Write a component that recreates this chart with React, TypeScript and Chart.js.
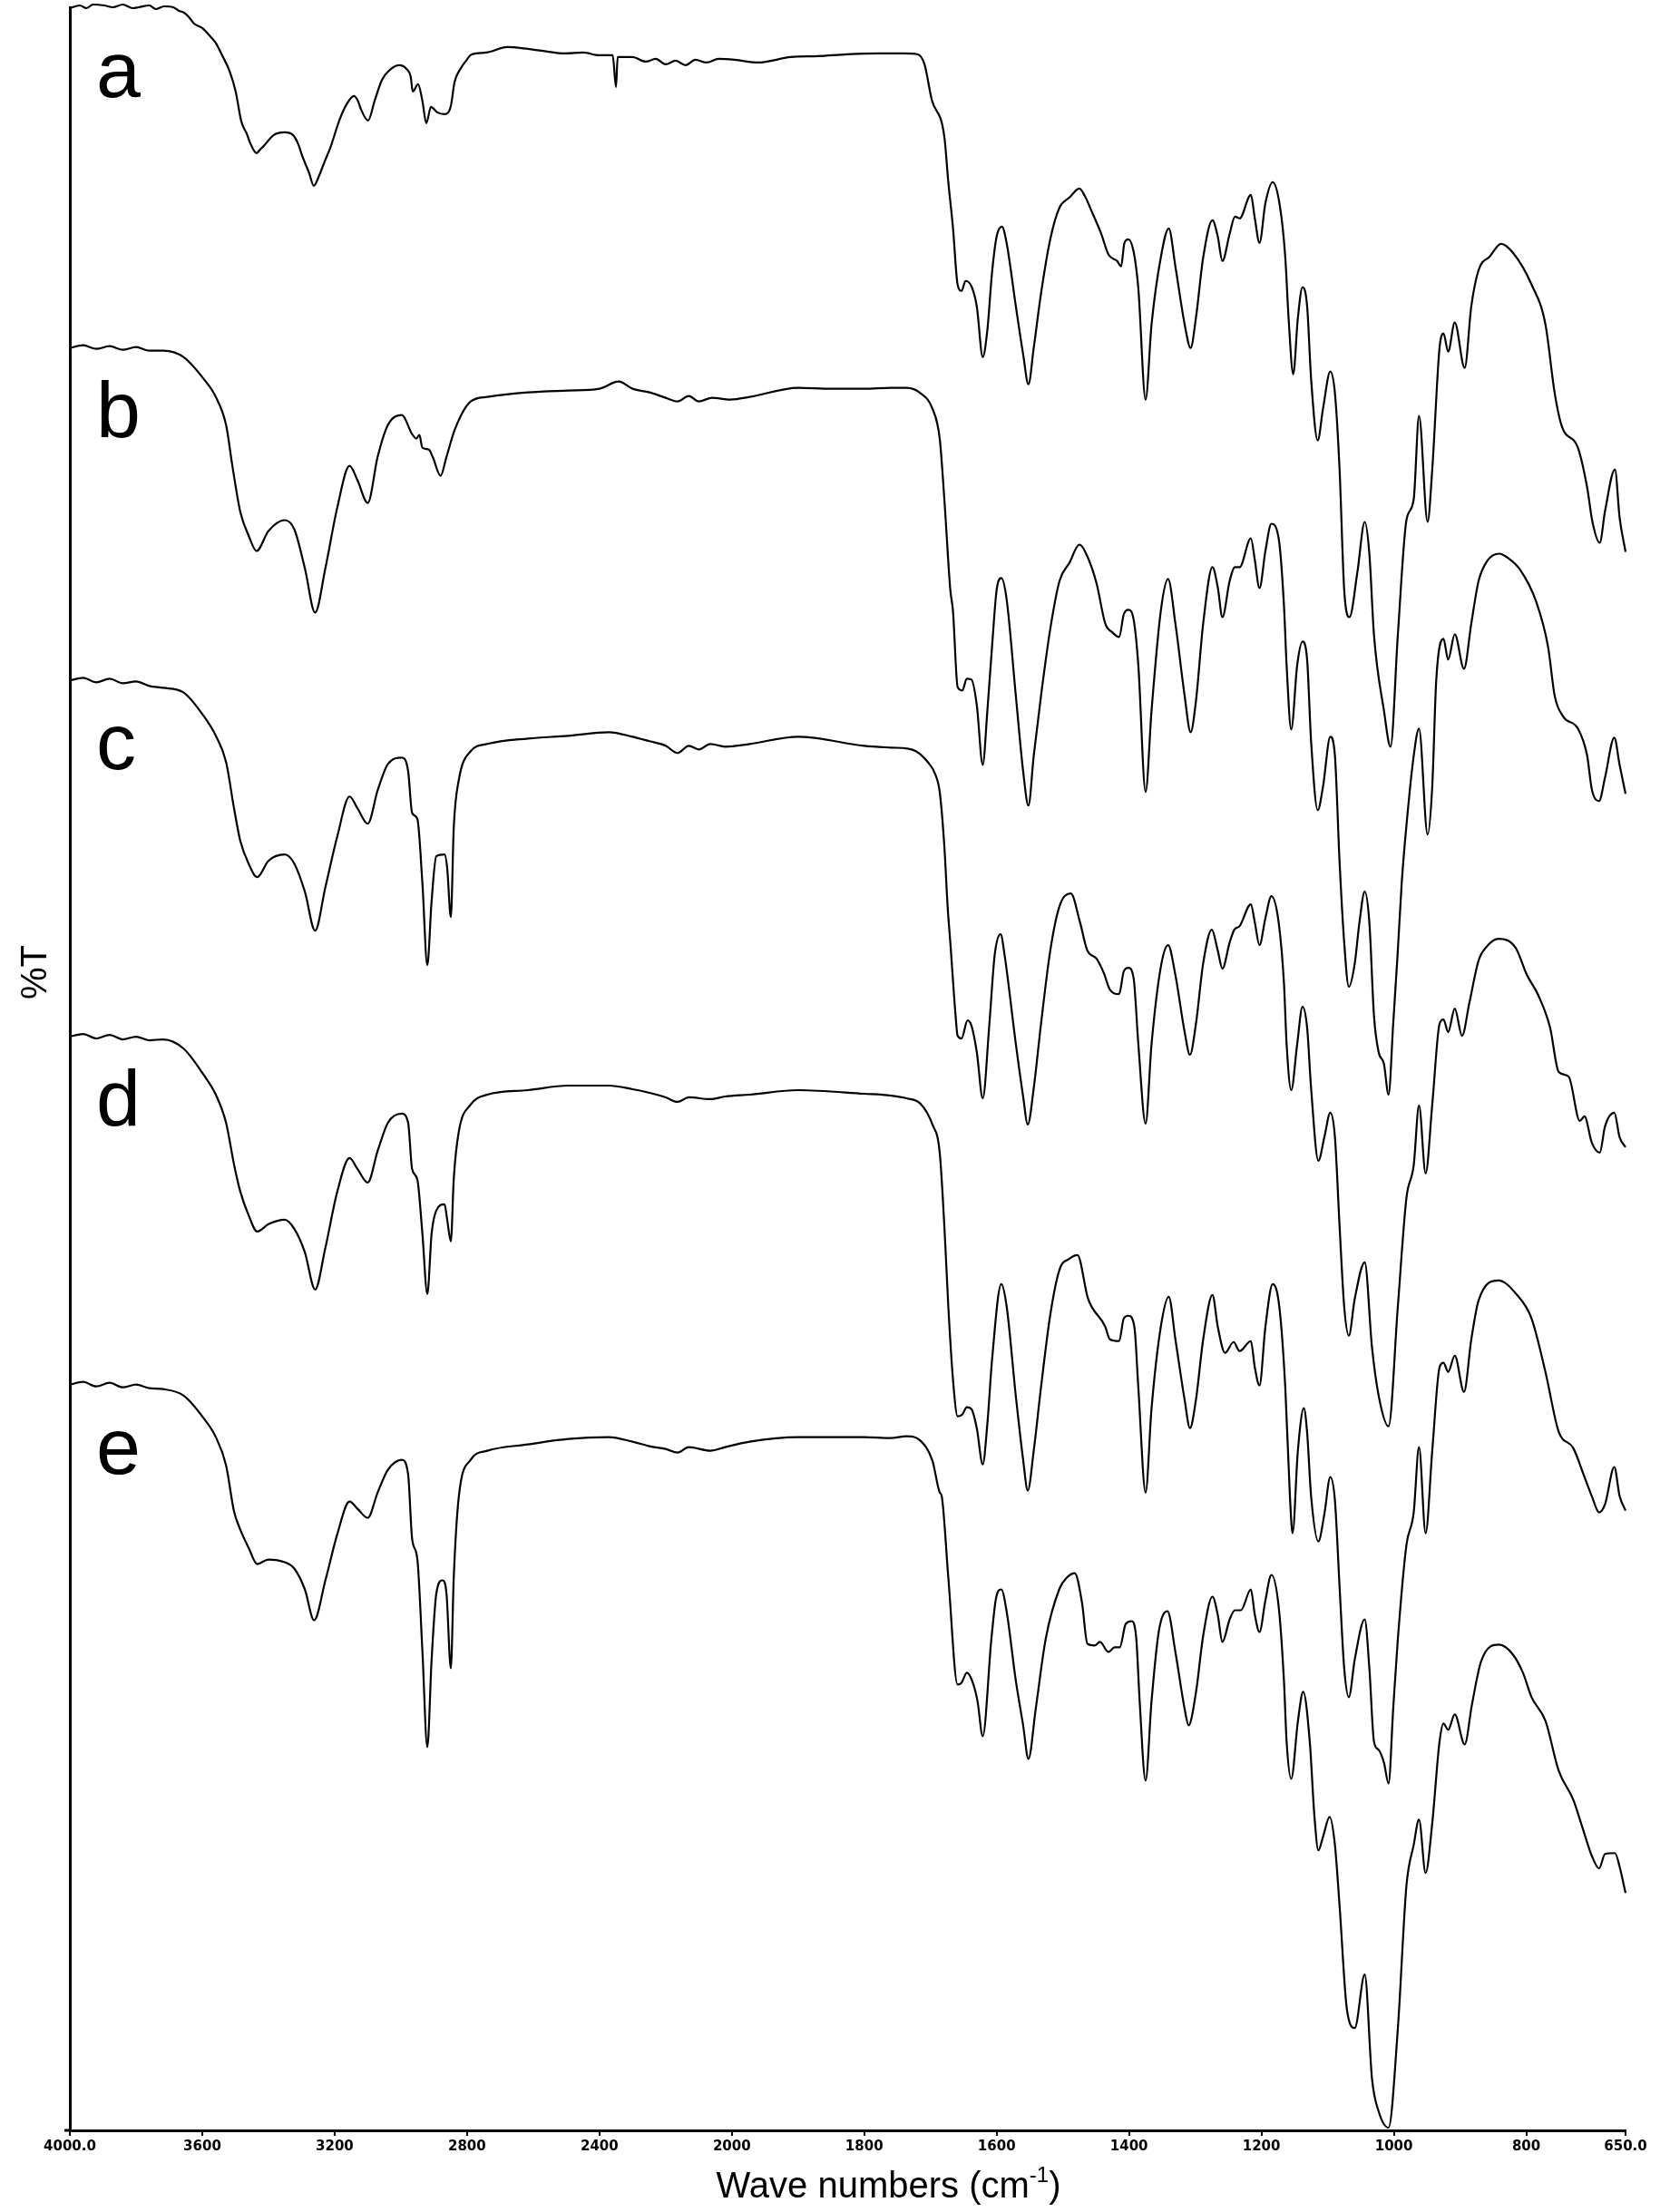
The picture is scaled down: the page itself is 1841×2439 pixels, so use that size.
import React, { useEffect, useRef } from 'react';
import Chart from 'chart.js/auto';

// x axis: wave numbers, with the usual FTIR scale change at 2000 cm-1
const tickWaves = [4000, 3600, 3200, 2800, 2400, 2000, 1800, 1600, 1400, 1200, 1000, 800, 650];
const tickLabels = ['4000.0', '3600', '3200', '2800', '2400', '2000', '1800', '1600', '1400', '1200', '1000', '800', '650.0'];
const sampleLetters = ['a', 'b', 'c', 'd', 'e'];

// [wave number, %T (stacked, arbitrary offset)]
const specA: [number, number][] = [
  [4000, 234.2], [3970, 234.5], [3950, 234.2], [3930, 234.6], [3896, 234.5], [3870, 234.3], [3840, 234.6],
  [3810, 234.2], [3792, 234.3], [3760, 234.5], [3740, 234.1], [3715, 234.4], [3688, 234.3], [3670, 233.9],
  [3655, 233.7], [3640, 233.2], [3625, 232.5], [3600, 232.0], [3581, 231.3], [3560, 230.4], [3540, 229.0],
  [3518, 227.3], [3499, 225.0], [3482, 221.7], [3465, 220.3], [3455, 219.3], [3436, 218.2], [3425, 218.6],
  [3414, 219.0], [3384, 220.2], [3351, 220.5], [3326, 220.2], [3310, 219.2], [3299, 218.0], [3277, 216.0],
  [3263, 214.6], [3247, 215.7], [3230, 217.3], [3214, 218.7], [3184, 222.0], [3162, 223.7], [3142, 224.5],
  [3130, 224.0], [3120, 223.0], [3099, 221.8], [3079, 224.0], [3057, 226.3], [3036, 227.3], [3005, 227.9],
  [2983, 227.5], [2970, 226.6], [2964, 225.0], [2948, 225.8], [2935, 224.0], [2923, 221.5], [2909, 223.3],
  [2890, 222.7], [2868, 222.5], [2849, 223.4], [2838, 226.0], [2820, 227.5], [2805, 228.3], [2786, 229.1],
  [2742, 229.3], [2679, 229.9], [2616, 229.7], [2575, 229.5], [2502, 229.2], [2450, 229.3], [2400, 229.0],
  [2360, 229.0], [2350, 225.5], [2345, 228.8], [2300, 228.8], [2260, 228.3], [2230, 228.6], [2200, 228.0],
  [2170, 228.4], [2140, 227.9], [2110, 228.5], [2077, 228.2], [2040, 228.6], [1996, 228.5], [1960, 228.2],
  [1911, 228.8], [1870, 228.9], [1826, 229.1], [1780, 229.2], [1740, 229.2], [1719, 229.1], [1709, 228.0],
  [1698, 224.1], [1679, 220.0], [1673, 215.0], [1666, 210.0], [1659, 203.7], [1653, 203.0], [1647, 204.1],
  [1638, 203.5], [1630, 201.3], [1621, 195.7], [1614, 198.7], [1607, 205.0], [1600, 209.0], [1592, 210.1],
  [1585, 208.3], [1571, 201.3], [1560, 196.0], [1552, 192.7], [1544, 196.7], [1533, 202.7], [1519, 208.7],
  [1505, 212.2], [1490, 213.3], [1475, 214.3], [1467, 213.5], [1456, 211.7], [1442, 209.3], [1431, 207.0],
  [1418, 206.3], [1412, 205.7], [1407, 208.3], [1401, 208.7], [1393, 207.3], [1386, 203.3], [1375, 191.0],
  [1366, 199.3], [1352, 206.7], [1340, 209.9], [1330, 205.7], [1316, 199.3], [1307, 196.7], [1299, 200.0],
  [1288, 206.7], [1274, 210.8], [1266, 209.0], [1259, 206.3], [1248, 209.3], [1240, 211.2], [1233, 211.0],
  [1216, 213.6], [1210, 211.0], [1203, 208.3], [1194, 212.7], [1183, 215.0], [1172, 212.3], [1164, 206.7],
  [1159, 200.0], [1152, 193.8], [1145, 200.0], [1138, 203.4], [1131, 201.3], [1125, 193.3], [1115, 186.5],
  [1107, 190.0], [1096, 194.1], [1089, 191.7], [1082, 183.3], [1075, 170.0], [1067, 167.0], [1055, 172.0],
  [1044, 177.5], [1037, 174.0], [1030, 165.0], [1015, 156.7], [1005, 152.7], [994, 165.0], [981, 177.7],
  [970, 180.0], [962, 189.2], [949, 177.5], [942, 183.3], [931, 196.7], [925, 198.3], [918, 196.3],
  [908, 199.5], [893, 194.5], [883, 201.3], [872, 205.3], [855, 206.8], [838, 208.2], [820, 207.2],
  [792, 203.7], [771, 199.3], [757, 191.7], [746, 188.0], [722, 185.7], [708, 181.3], [700, 177.5],
  [689, 175.2], [681, 178.7], [666, 183.3], [659, 178.0], [650, 174.2],
];

const specB: [number, number][] = [
  [4000, 196.7], [3960, 197.0], [3920, 196.6], [3880, 196.9], [3840, 196.5], [3800, 196.8], [3760, 196.4],
  [3718, 196.4], [3657, 195.7], [3596, 193.3], [3559, 191.3], [3528, 188.2], [3509, 183.7], [3485, 178.6],
  [3460, 176.0], [3436, 174.3], [3400, 176.5], [3351, 177.7], [3322, 176.7], [3290, 172.4], [3259, 167.5],
  [3228, 172.4], [3192, 179.1], [3155, 183.7], [3131, 182.1], [3100, 179.6], [3070, 184.7], [3039, 188.2],
  [2997, 189.3], [2966, 187.2], [2953, 186.7], [2944, 187.1], [2935, 185.7], [2916, 185.5], [2904, 184.7],
  [2880, 182.6], [2862, 184.7], [2837, 187.7], [2789, 190.8], [2739, 191.3], [2616, 191.8], [2495, 192.0],
  [2400, 192.2], [2342, 193.0], [2300, 192.2], [2249, 191.8], [2200, 191.2], [2164, 190.8], [2130, 191.4],
  [2100, 190.8], [2060, 191.2], [2005, 191.0], [1973, 191.3], [1900, 192.3], [1850, 192.2], [1800, 192.2],
  [1760, 192.3], [1736, 192.3], [1715, 191.7], [1697, 190.0], [1686, 186.7], [1679, 180.0], [1670, 170.0],
  [1666, 167.7], [1659, 159.3], [1652, 158.9], [1645, 160.2], [1638, 160.1], [1630, 157.3], [1621, 150.7],
  [1614, 156.7], [1607, 163.7], [1600, 170.0], [1593, 171.3], [1585, 169.0], [1571, 158.3], [1560, 150.0],
  [1552, 146.2], [1544, 151.7], [1533, 158.3], [1519, 165.7], [1505, 171.0], [1490, 173.0], [1475, 175.0],
  [1463, 173.7], [1449, 170.7], [1436, 166.3], [1425, 165.3], [1415, 164.8], [1408, 167.3], [1401, 167.8],
  [1393, 166.7], [1386, 161.7], [1375, 147.7], [1366, 156.7], [1352, 167.7], [1341, 171.2], [1330, 166.3],
  [1316, 158.3], [1307, 154.3], [1299, 157.7], [1288, 166.3], [1274, 172.5], [1266, 170.3], [1259, 167.0],
  [1248, 171.0], [1240, 172.5], [1233, 172.5], [1216, 175.7], [1210, 173.3], [1203, 170.2], [1194, 174.3],
  [1185, 177.3], [1174, 175.7], [1166, 168.3], [1162, 161.7], [1155, 154.6], [1146, 161.7], [1138, 164.3],
  [1131, 162.3], [1125, 153.3], [1115, 145.7], [1107, 148.3], [1096, 153.8], [1089, 151.7], [1082, 140.0],
  [1075, 131.1], [1068, 126.2], [1059, 128.8], [1052, 133.3], [1044, 136.7], [1037, 133.3], [1030, 123.0],
  [1023, 119.0], [1015, 117.7], [1008, 114.3], [1001, 122.1], [994, 130.2], [988, 137.8], [981, 144.0],
  [970, 151.7], [962, 154.7], [949, 143.0], [942, 148.3], [936, 160.0], [925, 164.6], [918, 162.3],
  [908, 165.1], [894, 161.3], [883, 166.3], [872, 171.0], [859, 173.2], [841, 174.0], [827, 173.5],
  [810, 172.3], [785, 168.7], [767, 163.7], [757, 158.3], [744, 156.0], [722, 154.7], [708, 151.7],
  [701, 148.0], [690, 146.7], [681, 149.3], [667, 153.7], [659, 150.7], [650, 147.5],
];

const specC: [number, number][] = [
  [4000, 160.0], [3960, 160.3], [3920, 159.8], [3880, 160.2], [3840, 159.7], [3800, 159.9], [3760, 159.4],
  [3718, 159.2], [3657, 158.7], [3596, 156.1], [3559, 153.9], [3528, 151.0], [3504, 145.9], [3485, 142.3],
  [3460, 139.8], [3434, 138.3], [3400, 140.1], [3351, 140.8], [3322, 139.8], [3290, 136.7], [3259, 132.4],
  [3228, 137.2], [3192, 142.8], [3155, 147.2], [3131, 145.9], [3100, 144.2], [3070, 147.9], [3039, 150.8],
  [2997, 151.5], [2978, 150.0], [2966, 145.4], [2950, 144.7], [2935, 137.7], [2920, 128.6], [2907, 135.7],
  [2893, 140.6], [2868, 140.8], [2860, 139.3], [2849, 133.9], [2840, 143.9], [2825, 149.0], [2789, 152.2],
  [2739, 153.0], [2616, 153.6], [2495, 153.9], [2372, 154.3], [2300, 153.8], [2249, 153.3], [2200, 152.8],
  [2164, 152.0], [2130, 152.8], [2100, 152.4], [2065, 153.0], [2020, 152.7], [1973, 153.0], [1900, 153.8],
  [1800, 152.8], [1760, 152.6], [1736, 152.5], [1722, 152.2], [1704, 151.0], [1693, 149.7], [1686, 147.7],
  [1679, 141.7], [1674, 135.0], [1670, 131.1], [1662, 123.0], [1659, 120.8], [1653, 120.5], [1644, 122.5],
  [1638, 121.9], [1630, 119.0], [1621, 113.9], [1611, 122.1], [1603, 129.7], [1594, 132.0], [1588, 129.7],
  [1571, 119.9], [1560, 114.1], [1553, 111.0], [1544, 115.0], [1533, 122.1], [1519, 130.2], [1505, 135.1],
  [1488, 136.5], [1474, 133.3], [1463, 130.2], [1449, 129.3], [1438, 127.7], [1429, 125.9], [1415, 125.4],
  [1408, 127.9], [1401, 128.3], [1393, 127.1], [1386, 119.9], [1375, 111.1], [1366, 119.9], [1352, 128.4],
  [1341, 130.8], [1330, 127.5], [1316, 121.2], [1308, 118.7], [1299, 122.1], [1288, 128.8], [1275, 132.5],
  [1266, 130.2], [1259, 128.2], [1248, 131.1], [1241, 132.5], [1233, 132.9], [1216, 135.3], [1210, 133.3],
  [1203, 130.8], [1194, 133.8], [1185, 136.2], [1174, 133.3], [1166, 126.6], [1162, 119.9], [1155, 114.8],
  [1146, 119.9], [1138, 124.0], [1131, 121.7], [1125, 115.0], [1114, 107.0], [1105, 109.6], [1096, 112.3],
  [1089, 109.6], [1082, 99.8], [1075, 90.9], [1068, 87.7], [1059, 91.8], [1044, 95.8], [1033, 86.4],
  [1023, 81.1], [1008, 77.7], [994, 90.9], [981, 102.9], [970, 106.5], [962, 113.1], [952, 105.6],
  [942, 113.2], [931, 122.1], [925, 122.6], [918, 121.2], [908, 123.8], [897, 120.8], [886, 124.4],
  [872, 129.1], [859, 130.7], [842, 131.5], [816, 130.5], [799, 127.5], [782, 125.3], [764, 121.7],
  [751, 116.8], [736, 116.3], [719, 111.4], [712, 111.9], [701, 109.0], [689, 107.9], [681, 110.8],
  [667, 112.3], [659, 109.6], [650, 108.5],
];

const specD: [number, number][] = [
  [4000, 120.7], [3960, 121.0], [3920, 120.5], [3880, 120.9], [3840, 120.4], [3800, 120.7], [3760, 120.3],
  [3718, 120.4], [3657, 119.4], [3596, 116.5], [3559, 114.3], [3528, 111.2], [3504, 106.6], [3485, 103.6],
  [3460, 101.0], [3434, 99.2], [3400, 100.0], [3351, 100.5], [3322, 99.5], [3290, 96.9], [3259, 92.8],
  [3228, 97.4], [3192, 103.6], [3155, 107.3], [3131, 106.1], [3100, 104.6], [3070, 108.1], [3039, 111.2],
  [2997, 112.2], [2978, 111.2], [2966, 106.1], [2950, 104.9], [2935, 99.0], [2920, 92.3], [2907, 99.0],
  [2893, 101.5], [2868, 102.2], [2860, 100.5], [2849, 98.1], [2840, 105.1], [2825, 110.2], [2789, 113.2],
  [2739, 114.3], [2616, 114.8], [2495, 115.3], [2372, 115.3], [2300, 114.9], [2249, 114.5], [2200, 114.0],
  [2164, 113.5], [2130, 114.0], [2065, 113.8], [2020, 114.1], [1973, 114.3], [1900, 114.8], [1800, 114.4],
  [1760, 114.2], [1736, 113.9], [1715, 113.3], [1697, 111.0], [1686, 107.9], [1679, 99.8], [1673, 90.9],
  [1666, 82.9], [1659, 78.8], [1652, 79.0], [1645, 79.8], [1638, 79.6], [1630, 77.5], [1621, 73.5],
  [1614, 78.0], [1607, 85.0], [1593, 93.4], [1585, 91.0], [1571, 81.0], [1560, 74.0], [1553, 70.6],
  [1544, 75.0], [1533, 82.0], [1519, 90.0], [1505, 95.0], [1490, 96.2], [1478, 96.6], [1462, 91.8],
  [1436, 88.7], [1429, 87.3], [1415, 87.1], [1408, 89.6], [1401, 89.9], [1392, 88.7], [1386, 82.0],
  [1375, 70.4], [1366, 79.7], [1352, 88.7], [1340, 92.0], [1330, 87.3], [1316, 80.6], [1308, 77.5],
  [1299, 80.6], [1288, 87.3], [1274, 92.2], [1266, 88.7], [1255, 85.8], [1242, 87.0], [1233, 86.0],
  [1216, 87.1], [1210, 84.2], [1203, 82.2], [1194, 88.7], [1183, 93.4], [1173, 90.9], [1164, 82.0],
  [1157, 70.0], [1153, 65.9], [1145, 75.0], [1136, 79.7], [1131, 77.0], [1125, 70.0], [1114, 65.0],
  [1105, 68.0], [1096, 72.1], [1089, 69.5], [1082, 60.0], [1075, 51.0], [1068, 47.8], [1059, 52.0],
  [1044, 56.4], [1037, 51.0], [1030, 42.9], [1023, 42.0], [1015, 40.6], [1008, 38.3], [1001, 46.5],
  [994, 54.2], [981, 64.6], [970, 68.2], [962, 75.4], [952, 65.9], [942, 75.0], [931, 84.2],
  [925, 84.7], [918, 83.7], [908, 85.5], [894, 81.5], [883, 87.3], [872, 91.6], [842, 93.8],
  [814, 92.2], [792, 89.6], [771, 83.7], [751, 77.1], [729, 75.3], [712, 72.1], [701, 70.0],
  [690, 68.2], [681, 69.1], [667, 73.2], [659, 70.0], [650, 68.4],
];

const specE: [number, number][] = [
  [4000, 82.3], [3960, 82.6], [3920, 82.1], [3880, 82.5], [3840, 82.0], [3800, 82.3], [3760, 81.9],
  [3718, 81.8], [3657, 81.1], [3596, 78.6], [3559, 76.5], [3528, 73.4], [3504, 68.3], [3485, 66.3],
  [3460, 64.3], [3434, 62.5], [3400, 63.0], [3351, 62.7], [3322, 62.0], [3290, 59.7], [3262, 56.3],
  [3228, 60.7], [3192, 65.8], [3155, 69.4], [3131, 68.6], [3100, 67.6], [3070, 70.4], [3039, 72.9],
  [2997, 74.0], [2978, 72.4], [2966, 65.3], [2950, 63.0], [2935, 53.0], [2920, 42.3], [2907, 52.0],
  [2893, 59.2], [2874, 60.7], [2862, 59.2], [2849, 51.0], [2840, 61.2], [2825, 69.9], [2789, 74.0],
  [2739, 75.0], [2616, 75.7], [2495, 76.3], [2372, 76.5], [2300, 76.0], [2249, 75.5], [2200, 75.2],
  [2164, 74.8], [2130, 75.4], [2065, 75.0], [2020, 75.4], [1973, 76.0], [1900, 76.5], [1800, 76.5],
  [1760, 76.4], [1736, 76.6], [1715, 76.1], [1697, 73.9], [1686, 70.4], [1683, 70.0], [1673, 61.0],
  [1659, 49.2], [1653, 49.4], [1645, 50.5], [1637, 49.6], [1629, 47.4], [1621, 43.5], [1608, 54.2],
  [1601, 58.7], [1593, 59.7], [1585, 57.3], [1571, 49.6], [1560, 44.7], [1552, 41.0], [1541, 46.5],
  [1526, 54.2], [1505, 59.8], [1494, 61.0], [1482, 61.5], [1471, 58.2], [1463, 53.7], [1452, 53.5],
  [1444, 53.9], [1431, 52.8], [1422, 53.3], [1414, 53.3], [1405, 55.9], [1396, 56.2], [1389, 54.2],
  [1384, 47.4], [1375, 38.6], [1366, 47.4], [1355, 55.1], [1342, 57.3], [1330, 52.8], [1316, 46.5],
  [1310, 44.7], [1299, 48.3], [1288, 54.6], [1274, 58.9], [1266, 56.9], [1259, 53.9], [1248, 56.4],
  [1240, 57.4], [1231, 57.4], [1216, 59.7], [1210, 56.9], [1203, 55.0], [1194, 58.5], [1185, 61.3],
  [1174, 57.8], [1166, 49.6], [1162, 42.9], [1155, 38.8], [1145, 45.1], [1137, 48.4], [1127, 42.9],
  [1120, 34.7], [1114, 30.9], [1107, 32.4], [1097, 34.6], [1089, 31.5], [1082, 24.8], [1071, 13.4],
  [1059, 11.3], [1044, 17.2], [1033, 5.7], [1023, 2.1], [1008, 0.3], [994, 11.2], [981, 27.0],
  [970, 31.5], [962, 34.3], [952, 28.4], [942, 33.9], [931, 42.9], [925, 44.9], [918, 44.2],
  [908, 45.9], [893, 42.6], [882, 47.0], [868, 51.8], [841, 53.6], [820, 52.5], [805, 50.5],
  [792, 47.8], [771, 45.2], [751, 39.7], [729, 36.5], [715, 33.4], [701, 30.3], [690, 28.9],
  [681, 30.5], [666, 30.6], [659, 29.1], [650, 26.2],
];

const spectra = [specA, specB, specC, specD, specE];

// piecewise axis position: 400 cm-1 per division above 2000, 200 below
const pos = (w: number) => (w >= 2000 ? (4000 - w) / 400 : 5 + (2000 - w) / 200);

const FONT = '"Liberation Sans", Arial, sans-serif';

const labelPlugin = {
  id: 'irLabels',
  afterDraw(chart: any) {
    const { ctx, chartArea, scales } = chart;
    const y = scales.y;
    ctx.save();
    ctx.fillStyle = '#000';

    // short stub of the x axis left of the y axis
    ctx.strokeStyle = '#000';
    ctx.lineWidth = 3;
    ctx.beginPath();
    ctx.moveTo(chartArea.left - 6, chartArea.bottom);
    ctx.lineTo(chartArea.left, chartArea.bottom);
    ctx.stroke();

    // sample letters next to each trace
    ctx.font = `88px ${FONT}`;
    ctx.textAlign = 'left';
    ctx.textBaseline = 'alphabetic';
    sampleLetters.forEach((letter, i) => {
      const base = y.getPixelForValue(spectra[i][0][1]) + 98;
      ctx.fillText(letter, chartArea.left + 29, base);
    });

    // x axis title with superscript
    const main = 'Wave numbers (cm';
    const sup = '-1';
    ctx.font = `40px ${FONT}`;
    const wMain = ctx.measureText(main).width;
    const wClose = ctx.measureText(')').width;
    ctx.font = `24px ${FONT}`;
    const wSup = ctx.measureText(sup).width;
    const total = wMain + wSup + wClose;
    const cx = (chartArea.left + chartArea.right) / 2 + 45;
    const baseY = chartArea.bottom + 74;
    let xx = cx - total / 2;
    ctx.font = `40px ${FONT}`;
    ctx.fillText(main, xx, baseY);
    xx += wMain;
    ctx.font = `24px ${FONT}`;
    ctx.fillText(sup, xx, baseY - 17);
    xx += wSup;
    ctx.font = `40px ${FONT}`;
    ctx.fillText(')', xx, baseY);

    // y axis title
    ctx.translate(chartArea.left - 37, chartArea.top + 1064);
    ctx.rotate(-Math.PI / 2);
    ctx.textAlign = 'center';
    ctx.textBaseline = 'middle';
    ctx.font = `40px ${FONT}`;
    ctx.fillText('%T', 0, 0);
    ctx.restore();
  },
};

const App: React.FC = () => {
  const canvasRef = useRef<HTMLCanvasElement>(null);

  useEffect(() => {
    document.body.style.margin = '0';
    let chart: Chart | null = null;
    if (canvasRef.current) {
      chart = new Chart(canvasRef.current, {
        type: 'line',
        data: {
          datasets: spectra.map((s, i) => ({
            label: sampleLetters[i],
            data: s.map(([w, t]) => ({ x: pos(w), y: t })),
            borderColor: '#000',
            borderWidth: 2.2,
            pointRadius: 0,
            cubicInterpolationMode: 'monotone' as const,
            fill: false,
            clip: false as any,
          })),
        },
        options: {
          animation: false,
          responsive: true,
          maintainAspectRatio: false,
          layout: { padding: { left: 77, right: 49, top: 8, bottom: 60 } },
          plugins: { legend: { display: false }, tooltip: { enabled: false } },
          scales: {
            x: {
              type: 'linear',
              min: 0,
              max: pos(650),
              afterBuildTicks: (scale: any) => {
                scale.ticks = tickWaves.map((w) => ({ value: pos(w) }));
              },
              ticks: {
                autoSkip: false,
                maxRotation: 0,
                padding: 3,
                color: '#000',
                font: { family: '"DejaVu Sans", sans-serif', size: 15, weight: 'bold' },
                callback: (_v: any, i: number) => tickLabels[i],
              },
              grid: { drawOnChartArea: false, drawTicks: true, tickLength: 6, color: '#000', lineWidth: 2 },
              border: { display: true, color: '#000', width: 3 },
            },
            y: {
              min: 0,
              max: 234.3,
              ticks: { display: false },
              grid: { display: false, drawTicks: false },
              border: { display: true, color: '#000', width: 3 },
            },
          },
        },
        plugins: [labelPlugin],
      });
    }
    return () => {
      if (chart) chart.destroy();
    };
  }, []);

  return (
    <div style={{ position: 'relative', width: '1841px', height: '2439px', background: '#fff' }}>
      <canvas ref={canvasRef}></canvas>
    </div>
  );
};

export default App;
